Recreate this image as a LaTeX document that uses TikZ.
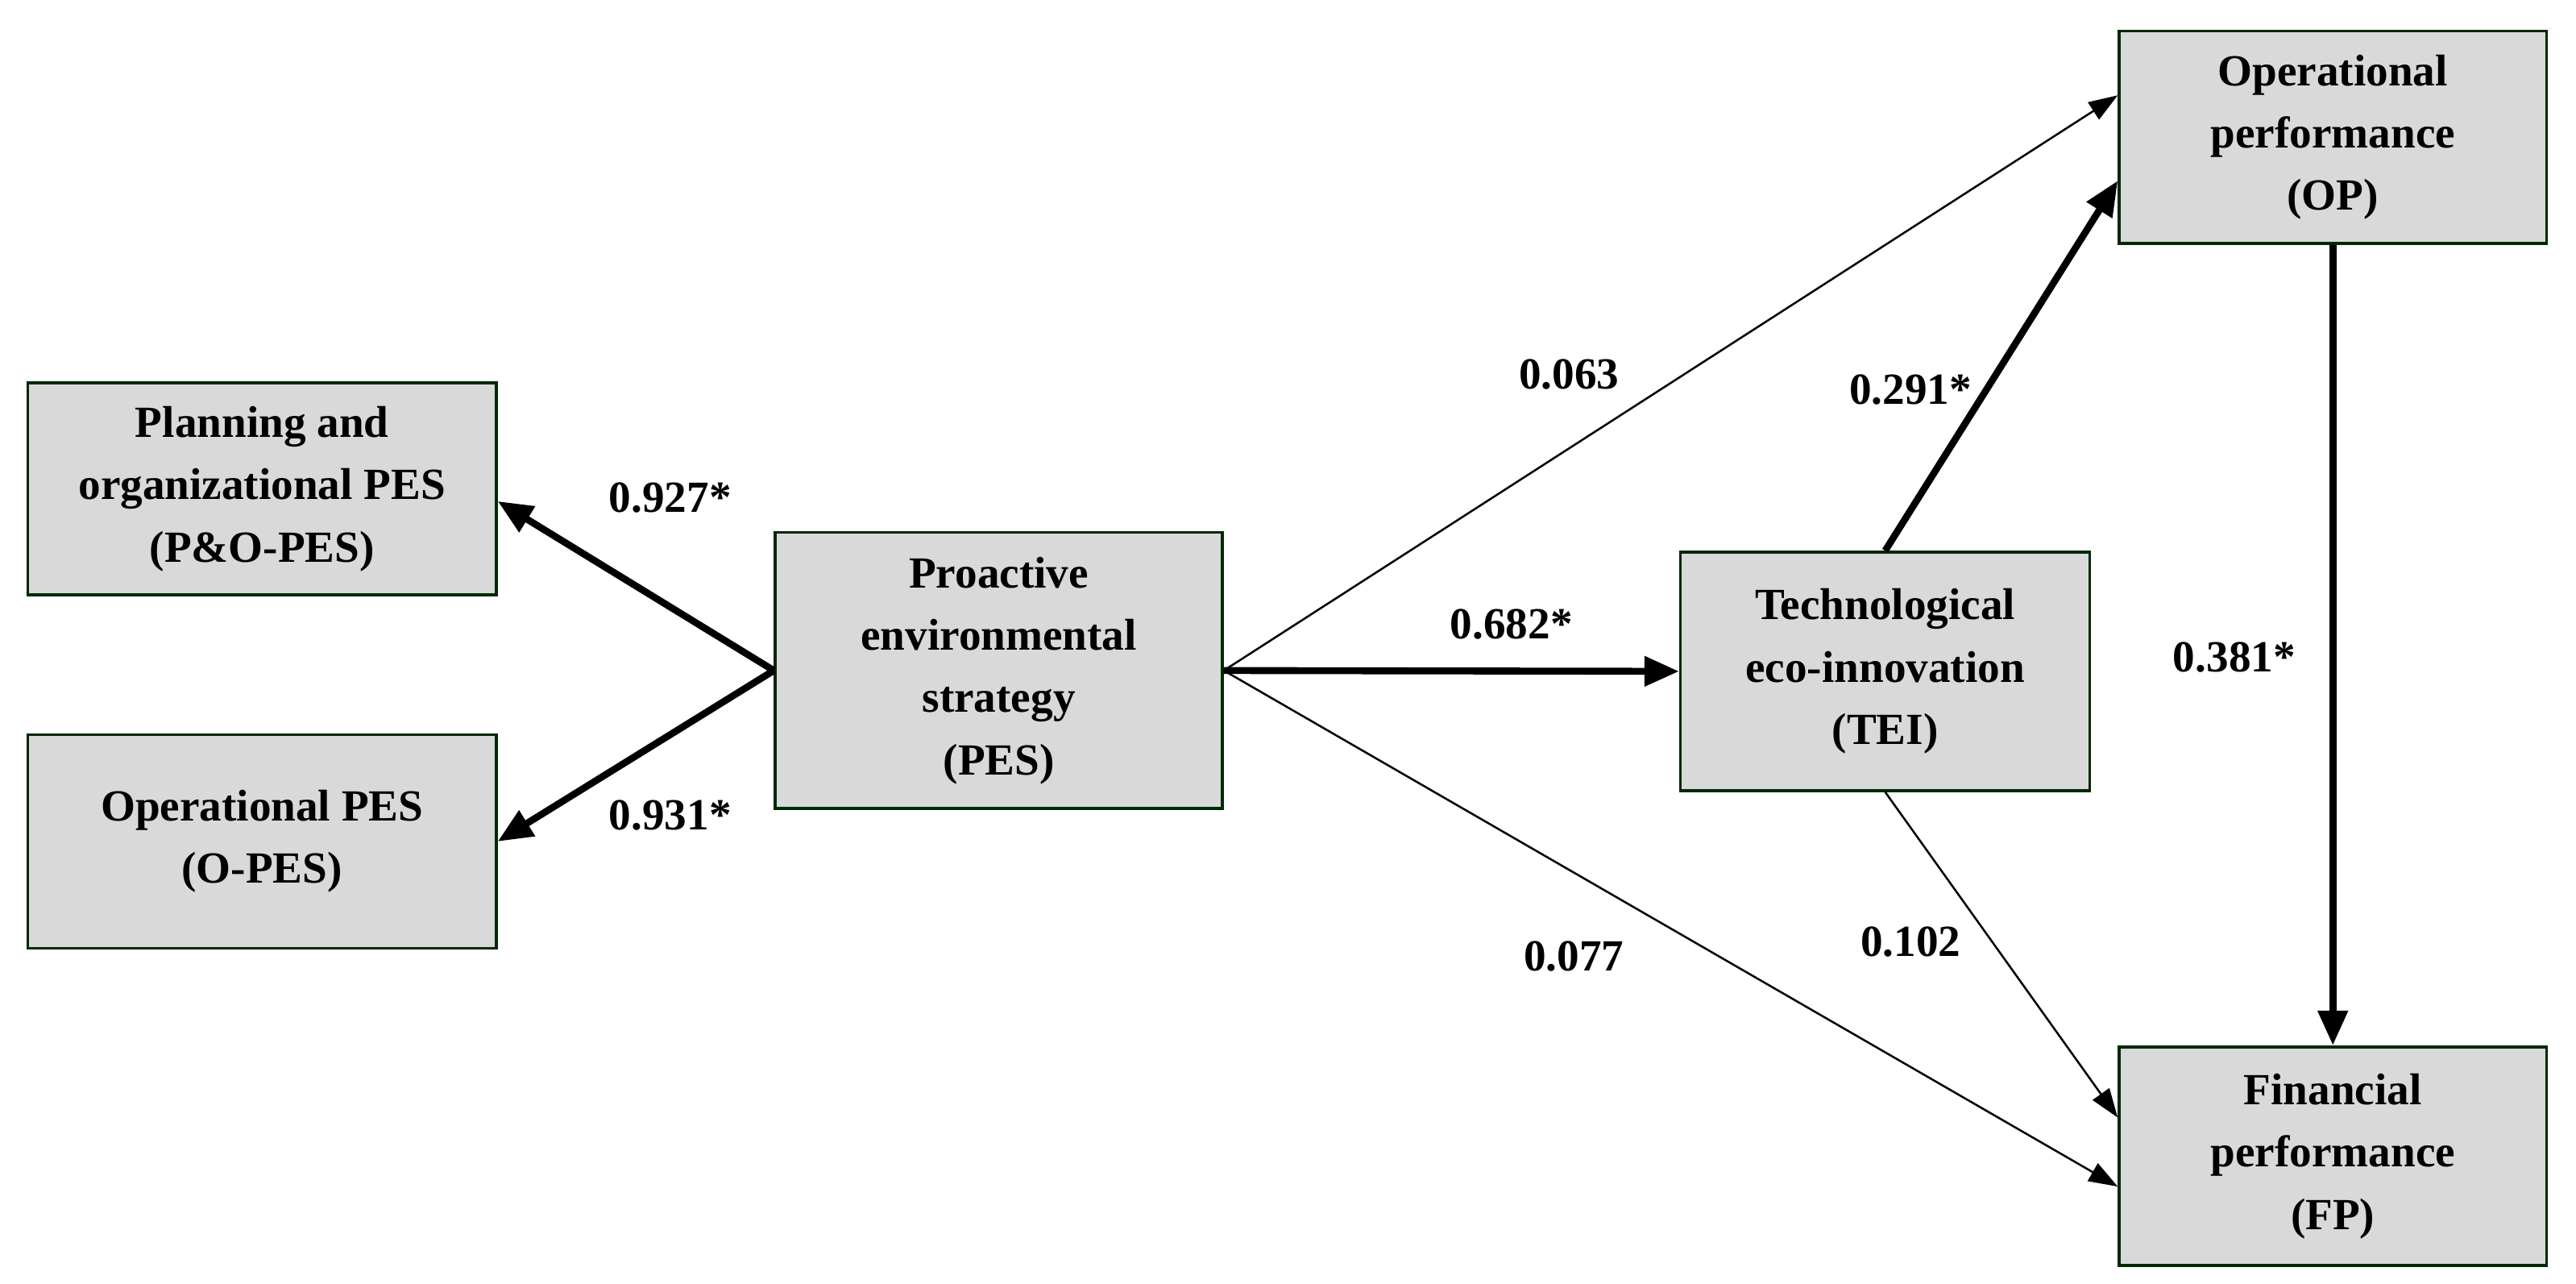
\documentclass[tikz,border=0pt]{standalone}
\usepackage{fontspec}
\setmainfont{Liberation Serif}
\usetikzlibrary{arrows.meta}
\begin{document}
\begin{tikzpicture}[x=0.01cm,y=-0.01cm,
  box/.style={draw=black!60!green!40!black,fill={rgb,255:red,217;green,217;blue,217},line width=0.5pt,align=center,inner sep=0pt,font=\fontsize{7.7}{10.8}\selectfont\bfseries},
  thickarr/.style={line width=1.2pt,-{Triangle[length=6pt,width=5pt]}},
  thinarr/.style={line width=0.35pt,-{Triangle[length=5pt,width=3.5pt]}},
  lab/.style={font=\fontsize{7.7}{9}\selectfont\bfseries}]
\useasboundingbox (0,0) rectangle (1568,781);
\node[box,minimum width=2.85cm,minimum height=1.29cm] (po) at (159.5,297.5) {Planning and\\organizational PES\\(P\&O-PES)};
\node[box,minimum width=2.85cm,minimum height=1.30cm] (ope) at (159.5,512) {Operational PES\\(O-PES)};
\node[box,minimum width=2.72cm,minimum height=1.68cm] (pes) at (608,408) {Proactive\\environmental\\strategy\\(PES)};
\node[box,minimum width=2.49cm,minimum height=1.45cm] (tei) at (1147.5,408.5) {Technological\\eco-innovation\\(TEI)};
\node[box,minimum width=2.60cm,minimum height=1.29cm] (op) at (1420,83.5) {Operational\\performance\\(OP)};
\node[box,minimum width=2.60cm,minimum height=1.33cm] (fp) at (1420,703.5) {Financial\\performance\\(FP)};
\coordinate (pw) at (pes.west);
\coordinate (pe) at (pes.east);
\draw[thickarr] (pw) -- (po.east |- 0,305);
\draw[thickarr] (pw) -- (ope.east);
\draw[thickarr] (pe) -- (tei.west);
\draw[thinarr] (pe) -- (op.west |- 0,58);
\draw[thinarr] (pe) -- (fp.west |- 0,722);
\draw[thickarr] (tei.north) -- (op.west |- 0,110);
\draw[thinarr] (tei.south) -- (fp.west |- 0,680);
\draw[thickarr] (op.south) -- (fp.north);
\node[lab] (l1) at (408,303) {0.927*};
\node[lab] (l2) at (408,496) {0.931*};
\node[lab] (l3) at (920,380) {0.682*};
\node[lab] (l4) at (955,228) {0.063};
\node[lab] (l5) at (958,582) {0.077};
\node[lab] (l6) at (1163,237) {0.291*};
\node[lab] (l7) at (1163,573) {0.102};
\node[lab] (l8) at (1360,400) {0.381*};
\end{tikzpicture}
\end{document}
